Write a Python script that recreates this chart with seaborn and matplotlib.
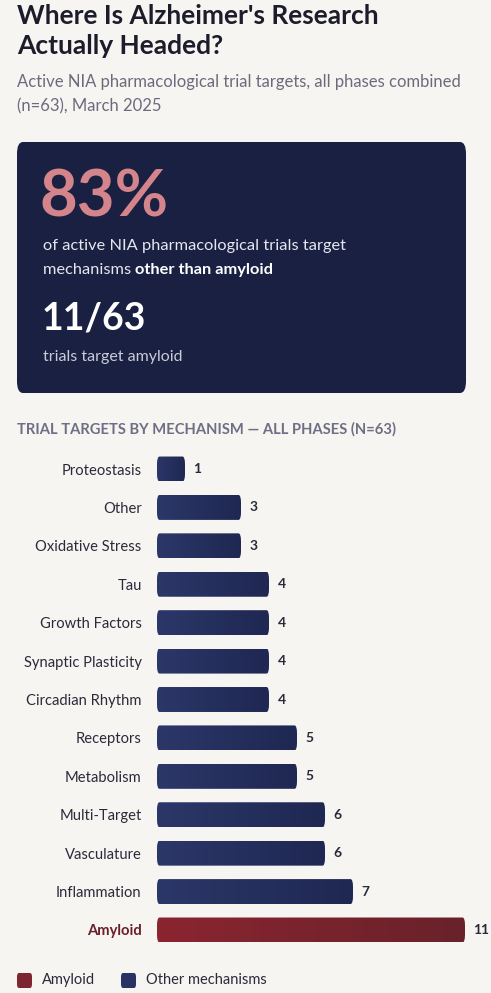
import numpy as np
import pandas as pd
import seaborn as sns
import matplotlib.pyplot as plt
from matplotlib.patches import FancyBboxPatch
from matplotlib.colors import LinearSegmentedColormap

# data
mechanisms = ["Proteostasis", "Other", "Oxidative Stress", "Tau", "Growth Factors",
              "Synaptic Plasticity", "Circadian Rhythm", "Receptors", "Metabolism",
              "Multi-Target", "Vasculature", "Inflammation", "Amyloid"]
trial_counts = [1, 3, 3, 4, 4, 4, 4, 5, 5, 6, 6, 7, 11]
groups = ["Other mechanisms"] * 12 + ["Amyloid"]
total_trials = 63
amyloid_trials = 11

# style
bg = "#f7f5f1"
navy = {'light': "#2c3769", 'dark': "#1f2852"}
red = {'light': "#8a2530", 'dark': "#69222a"}
card_col = "#1a2042"
ink = "#1c1c2b"
grey = "#6b6b7d"

sns.set_theme(style="white")
plt.rcParams['font.family'] = ['Lato', 'DejaVu Sans']

fig = plt.figure(figsize=(4.91, 9.93), dpi=100, facecolor=bg)
W, H = 491, 993

def px(x, y):
    return x / W, 1 - y / H

# header
fig.text(*px(17, 16), "Where Is Alzheimer's Research", fontsize=19, weight='bold',
         color=ink, va='center')
fig.text(*px(17, 46), "Actually Headed?", fontsize=19, weight='bold', color=ink, va='center')
fig.text(*px(17, 82), "Active NIA pharmacological trial targets, all phases combined",
         fontsize=12, color=grey, va='center')
fig.text(*px(17, 106), f"(n={total_trials}), March 2025", fontsize=12, color=grey, va='center')

# stat card
card = FancyBboxPatch((17 / W, 1 - 393 / H), (466 - 17) / W, (393 - 142) / H,
                      boxstyle="round,pad=0,rounding_size=0.012",
                      transform=fig.transFigure, facecolor=card_col, edgecolor='none')
fig.patches.append(card)
share_other = round((total_trials - amyloid_trials) / total_trials * 100)
fig.text(*px(40, 198), f"{share_other}%", fontsize=47, weight='bold', color="#d3858b",
         va='center')
fig.text(*px(43, 246), "of active NIA pharmacological trials target", fontsize=11.8,
         color="#e6e7ee", va='center')
t_reg = fig.text(*px(43, 270), "mechanisms ", fontsize=11.8, color="#e6e7ee", va='center')
fig.canvas.draw()
bb = t_reg.get_window_extent()
fig.text(bb.x1 / W, 1 - 270 / H, "other than amyloid", fontsize=11.8, color="white",
         weight='bold', va='center')
fig.text(*px(42, 319), f"{amyloid_trials}/{total_trials}", fontsize=27, weight='bold',
         color="white", va='center')
fig.text(*px(43, 357), "trials target amyloid", fontsize=11.5, color="#c9cbd8", va='center')

# section title
fig.text(*px(17, 429), "TRIAL TARGETS BY MECHANISM \u2014 ALL PHASES (N=63)",
         fontsize=10.6, weight='bold', color="#6e6e85", va='center')

# bar chart
row = 38.4
top = 469 - row / 2
bottom = 930 + row / 2
ax = fig.add_axes([157 / W, 1 - bottom / H, 308 / W, (bottom - top) / H])
ax.set_facecolor('none')

df = pd.DataFrame({'mechanism': mechanisms, 'count': trial_counts, 'group': groups})
sns.barplot(data=df, x='count', y='mechanism', hue='group', orient='h', dodge=False,
            palette={"Other mechanisms": navy['light'], "Amyloid": red['light']},
            width=0.65, legend=False, ax=ax)

ax.set_xlim(0, 11)
ax.set_ylim(12.5, -0.5)
ax.set_xlabel('')
ax.set_ylabel('')
ax.set_xticks([])
sns.despine(ax=ax, left=True, bottom=True)
ax.tick_params(axis='y', length=0, pad=11)

# gradient fill + rounded corners on each bar
for p in list(ax.patches):
    w = p.get_width()
    if w <= 0:
        continue
    x0, y0, h = p.get_x(), p.get_y(), p.get_height()
    is_red = abs(y0 + h / 2 - 12) < 0.3
    c = red if is_red else navy
    cmap = LinearSegmentedColormap.from_list('g', [c['light'], c['dark']])
    rounded = FancyBboxPatch((x0, y0), w, h, boxstyle="round,pad=0,rounding_size=0.09",
                             mutation_aspect=2.2,
                             facecolor='none', edgecolor='none', transform=ax.transData)
    ax.add_patch(rounded)
    grad = np.linspace(0, 1, 100).reshape(1, -1)
    im = ax.imshow(grad, cmap=cmap, aspect='auto', extent=(x0, x0 + w, y0 + h, y0),
                   zorder=2, interpolation='bilinear')
    im.set_clip_path(rounded)
    p.set_visible(False)
    ax.text(x0 + w + 0.3, y0 + h / 2, str(int(w)), va='center', ha='left', fontsize=10,
            weight='bold', color="#2a2a3a", clip_on=False)

ax.set_xlim(0, 11)
ax.set_ylim(12.5, -0.5)
for lab in ax.get_yticklabels():
    lab.set_fontsize(10.6)
    if lab.get_text() == "Amyloid":
        lab.set_color("#6b1f2a")
        lab.set_weight('bold')
    else:
        lab.set_color("#2a2a3a")

# legend
for x, col, name in [(17, "#7d2530", "Amyloid"), (121, "#283263", "Other mechanisms")]:
    sq = FancyBboxPatch((x / W, 1 - 988 / H), 15 / W, 15 / H,
                        boxstyle="round,pad=0,rounding_size=0.004",
                        transform=fig.transFigure, facecolor=col, edgecolor='none')
    fig.patches.append(sq)
    fig.text(*px(x + 25, 980), name, fontsize=10.5, color="#2a2a3a", va='center')

fig.savefig("out.png", dpi=100, facecolor=bg)
